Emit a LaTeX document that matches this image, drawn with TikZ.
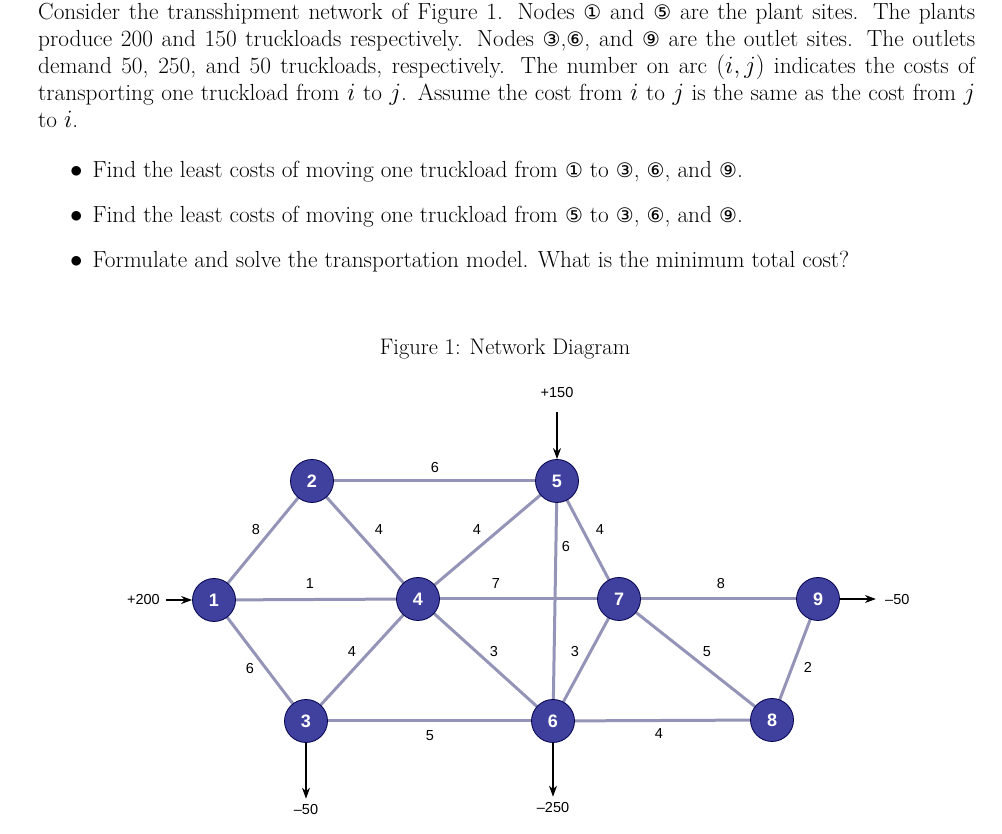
\documentclass[tikz,border=0pt]{standalone}
\usepackage{fontspec}
\usepackage{amsmath}
\newfontfamily\dv{DejaVu Sans}
\newfontfamily\lsans{Liberation Sans}
\usetikzlibrary{arrows.meta}
\newcommand{\cn}[1]{{\dv\fontsize{20}{20}\selectfont #1}}
\tikzset{
  txt/.style={anchor=base west,inner sep=0pt,font=\fontsize{23.3}{27}\selectfont},
  net/.style={circle,fill=blue!50!black!75!white,draw=blue!30!black,line width=0.8pt,minimum size=43pt,inner sep=0pt,text=white,font=\lsans\bfseries\fontsize{18}{18}\selectfont},
  arc/.style={draw=blue!20!gray!70,line width=3pt},
  lab/.style={font=\lsans\fontsize{14.5}{14.5}\selectfont,inner sep=0pt},
  flow/.style={-{Stealth[length=11pt,width=8pt]},line width=1.3pt},
  x=1pt,y=1pt
}
\begin{document}
\begin{tikzpicture}
\useasboundingbox (0,0) rectangle (1002,834);
\fill[white] (0,0) rectangle (1002,834);
% text
\node[txt] (t1) at (38,814) {\makebox[937pt][s]{Consider the transshipment network of Figure 1. Nodes \cn{①} and \cn{⑤} are the plant sites. The plants}};
\node[txt] (t2) at (38,787) {\makebox[937pt][s]{produce 200 and 150 truckloads respectively. Nodes \cn{③},\cn{⑥}, and \cn{⑨} are the outlet sites. The outlets}};
\node[txt] (t3) at (38,760) {\makebox[937pt][s]{demand 50, 250, and 50 truckloads, respectively. The number on arc $(i,j)$ indicates the costs of}};
\node[txt] (t4) at (38,733) {\makebox[937pt][s]{transporting one truckload from $i$ to $j$. Assume the cost from $i$ to $j$ is the same as the cost from $j$}};
\node[txt] (t5) at (38,706) {to $i$.};
\node[txt] (b1) at (70,656) {$\bullet$\hspace{10pt}Find the least costs of moving one truckload from \cn{①} to \cn{③}, \cn{⑥}, and \cn{⑨}.};
\node[txt] (b2) at (70,611) {$\bullet$\hspace{10pt}Find the least costs of moving one truckload from \cn{⑤} to \cn{③}, \cn{⑥}, and \cn{⑨}.};
\node[txt] (b3) at (70,566) {$\bullet$\hspace{10pt}Formulate and solve the transportation model. What is the minimum total cost?};
\node[anchor=base,inner sep=0pt,font=\fontsize{22.5}{26}\selectfont] (cap) at (505,479) {Figure 1: Network Diagram};
% nodes
\coordinate (p1) at (214,234); \coordinate (p2) at (312,353); \coordinate (p3) at (306,113);
\coordinate (p4) at (418,235); \coordinate (p5) at (557,353); \coordinate (p6) at (553,113);
\coordinate (p7) at (619,235); \coordinate (p8) at (772,114); \coordinate (p9) at (818,235);
\foreach \a/\b in {1/2,1/4,1/3,2/5,2/4,3/4,3/6,4/5,4/7,4/6,5/6,5/7,6/7,6/8,7/8,7/9,8/9}
  \draw[arc] (p\a) -- (p\b);
\foreach \i in {1,...,9} \node[net] (n\i) at (p\i) {\i};
% labels
\node[lab] (l12) at (256,304) {8};
\node[lab] (l25) at (435,366) {6};
\node[lab] (l24) at (379,304) {4};
\node[lab] (l45) at (477,304) {4};
\node[lab] (l56) at (566,287) {6};
\node[lab] (l57) at (600,304) {4};
\node[lab] (l14) at (310,250) {1};
\node[lab] (l47) at (496,250) {7};
\node[lab] (l79) at (721,250) {8};
\node[lab] (l13) at (250,165) {6};
\node[lab] (l34) at (352,182) {4};
\node[lab] (l46) at (494,182) {3};
\node[lab] (l67) at (575,182) {3};
\node[lab] (l78) at (707,182) {5};
\node[lab] (l89) at (808,167) {2};
\node[lab] (l36) at (430,98) {5};
\node[lab] (l68) at (659,100) {4};
% supply/demand
\node[lab,anchor=east] (s1) at (160,234) {+200};
\node[lab] (s5) at (557,441) {+150};
\node[lab,anchor=west] (d9) at (885,234) {–50};
\node[lab] (d3) at (306,24) {–50};
\node[lab] (d6) at (553,26) {–250};
\draw[flow,shorten <=6pt] (s1.east) -- (n1.west);
\draw[flow,shorten <=14pt] (s5.south) -- (n5.north);
\draw[flow] (n9.east) -- ++(36,0);
\draw[flow,shorten >=6pt] (n3.south) -- (d3.north);
\draw[flow,shorten >=6pt] (n6.south) -- (d6.north);
\end{tikzpicture}
\end{document}
